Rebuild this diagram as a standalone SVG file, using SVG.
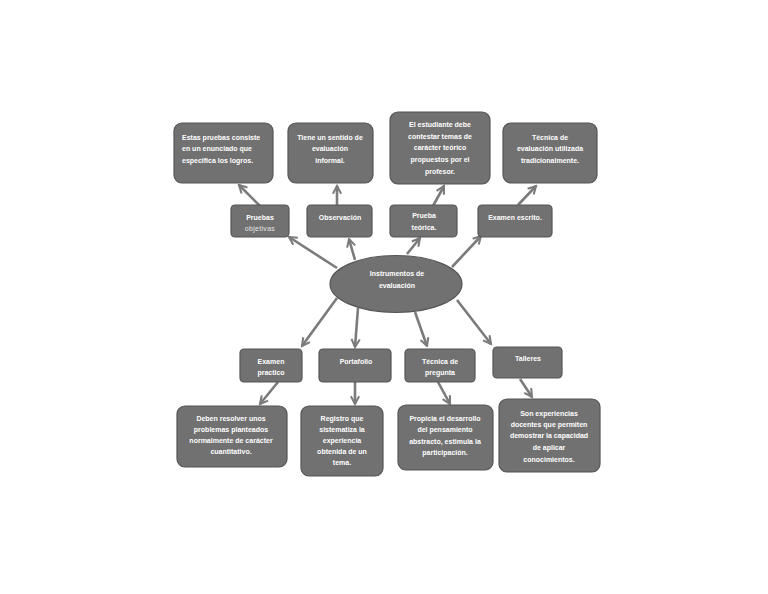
<svg xmlns="http://www.w3.org/2000/svg" width="768" height="594" viewBox="0 0 768 594">
<style>
.box{fill:#717171;stroke:#555555;stroke-width:1.2}
.t{font-family:"Liberation Sans",Arial,sans-serif;font-size:7px;font-weight:bold;fill:#ffffff;text-anchor:middle}
.tl{text-anchor:start}
.light{font-weight:normal;fill:#e6e6e6;letter-spacing:0.3px}
.c line{stroke:#7b7b7b;stroke-width:2.6;marker-end:url(#ah)}
</style>
<defs>
<marker id="ah" viewBox="0 0 10 10" refX="8.5" refY="5" markerWidth="4" markerHeight="4" markerUnits="strokeWidth" orient="auto">
<path d="M1,1 L8.5,5 L1,9" fill="none" stroke="#7b7b7b" stroke-width="2"/>
</marker>
</defs>
<rect width="768" height="594" fill="#ffffff"/>
<g class="c" id="connectors">
<line x1="337" y1="268" x2="289" y2="237"/>
<line x1="355" y1="260" x2="349" y2="239"/>
<line x1="407" y1="254" x2="420" y2="238"/>
<line x1="452" y1="267" x2="481" y2="236"/>
<line x1="337" y1="298" x2="302" y2="346"/>
<line x1="358" y1="308" x2="355" y2="347"/>
<line x1="415" y1="312" x2="427" y2="346"/>
<line x1="457" y1="300" x2="491" y2="344"/>
<line x1="260" y1="206" x2="239" y2="185"/>
<line x1="337" y1="206" x2="337" y2="186"/>
<line x1="433" y1="206" x2="444" y2="186"/>
<line x1="518" y1="205" x2="536" y2="186"/>
<line x1="278" y1="382" x2="260" y2="404"/>
<line x1="355" y1="382" x2="355" y2="404"/>
<line x1="438" y1="382" x2="450" y2="404"/>
<line x1="520" y1="379" x2="532" y2="397"/>
</g>
<g id="center">
<ellipse cx="396" cy="284" rx="66" ry="28.5" class="box"/>
<text class="t" x="397" y="275.5">Instrumentos de</text>
<text class="t" x="397" y="287.5">evaluación</text>
</g>
<g id="n-estas">
<rect x="174" y="123" width="99" height="60" rx="8" class="box"/>
<text class="t tl" x="182" y="139.5">Estas pruebas consiste</text>
<text class="t tl" x="182" y="151">en un enunciado que</text>
<text class="t tl" x="182" y="162.5">especifica los logros.</text>
</g>
<g id="n-tiene">
<rect x="288" y="123" width="85" height="60" rx="8" class="box"/>
<text class="t" x="330" y="139.5">Tiene un sentido de</text>
<text class="t" x="330" y="151">evaluación</text>
<text class="t" x="330" y="162.5">informal.</text>
</g>
<g id="n-estudiante">
<rect x="390" y="112" width="100" height="72" rx="8" class="box"/>
<text class="t" x="440" y="126.5">El estudiante debe</text>
<text class="t" x="440" y="138.5">contestar temas de</text>
<text class="t" x="440" y="150">carácter teórico</text>
<text class="t" x="440" y="161.5">propuestos por el</text>
<text class="t" x="440" y="173.5">profesor.</text>
</g>
<g id="n-tecnica-eval">
<rect x="503" y="123" width="94" height="60" rx="8" class="box"/>
<text class="t" x="550" y="139.5">Técnica de</text>
<text class="t" x="550" y="151">evaluación utilizada</text>
<text class="t" x="550" y="162.5">tradicionalmente.</text>
</g>
<g id="n-pruebas">
<rect x="231" y="205" width="58" height="32" rx="4" class="box"/>
<text class="t" x="260" y="219.5">Pruebas</text>
<text class="t light" x="260" y="230.5">objetivas</text>
</g>
<g id="n-observacion">
<rect x="307" y="205" width="65" height="32" rx="4" class="box"/>
<text class="t" x="340" y="219.5">Observación</text>
</g>
<g id="n-prueba-teorica">
<rect x="390" y="205" width="67" height="32" rx="4" class="box"/>
<text class="t" x="424" y="217.5">Prueba</text>
<text class="t" x="424" y="230">teórica.</text>
</g>
<g id="n-examen-escrito">
<rect x="478" y="205" width="74" height="32" rx="4" class="box"/>
<text class="t" x="515" y="219.5">Examen escrito.</text>
</g>
<g id="n-examen-practico">
<rect x="240" y="349" width="62" height="33" rx="4" class="box"/>
<text class="t" x="271" y="363.5">Examen</text>
<text class="t" x="271" y="374.5">practico</text>
</g>
<g id="n-portafolio">
<rect x="319" y="349" width="72" height="33" rx="4" class="box"/>
<text class="t" x="356" y="363.5">Portafolio</text>
</g>
<g id="n-tecnica-pregunta">
<rect x="405" y="349" width="70" height="33" rx="4" class="box"/>
<text class="t" x="440" y="363.5">Técnica de</text>
<text class="t" x="440" y="374.5">pregunta</text>
</g>
<g id="n-talleres">
<rect x="493" y="347" width="69" height="31" rx="4" class="box"/>
<text class="t" x="528" y="360.5">Talleres</text>
</g>
<g id="n-deben">
<rect x="177" y="406" width="110" height="61" rx="8" class="box"/>
<text class="t" x="231" y="420.5">Deben resolver unos</text>
<text class="t" x="231" y="431.5">problemas planteados</text>
<text class="t" x="231" y="442.5">normalmente de carácter</text>
<text class="t" x="231" y="453.5">cuantitativo.</text>
</g>
<g id="n-registro">
<rect x="301" y="406" width="82" height="70" rx="8" class="box"/>
<text class="t" x="342" y="420.5">Registro que</text>
<text class="t" x="342" y="431.5">sistematiza la</text>
<text class="t" x="342" y="442.5">experiencia</text>
<text class="t" x="342" y="453.5">obtenida de un</text>
<text class="t" x="342" y="464.5">tema.</text>
</g>
<g id="n-propicia">
<rect x="398" y="405" width="95" height="65" rx="8" class="box"/>
<text class="t" x="445" y="420.5">Propicia el desarrollo</text>
<text class="t" x="445" y="431.5">del pensamiento</text>
<text class="t" x="445" y="444">abstracto, estimula la</text>
<text class="t" x="445" y="454.5">participación.</text>
</g>
<g id="n-son">
<rect x="499" y="399" width="101" height="73" rx="8" class="box"/>
<text class="t" x="549" y="415.5">Son experiencias</text>
<text class="t" x="549" y="426.5">docentes que permiten</text>
<text class="t" x="549" y="437.5">demostrar la capacidad</text>
<text class="t" x="549" y="449.5">de aplicar</text>
<text class="t" x="549" y="461.5">conocimientos.</text>
</g>
</svg>
